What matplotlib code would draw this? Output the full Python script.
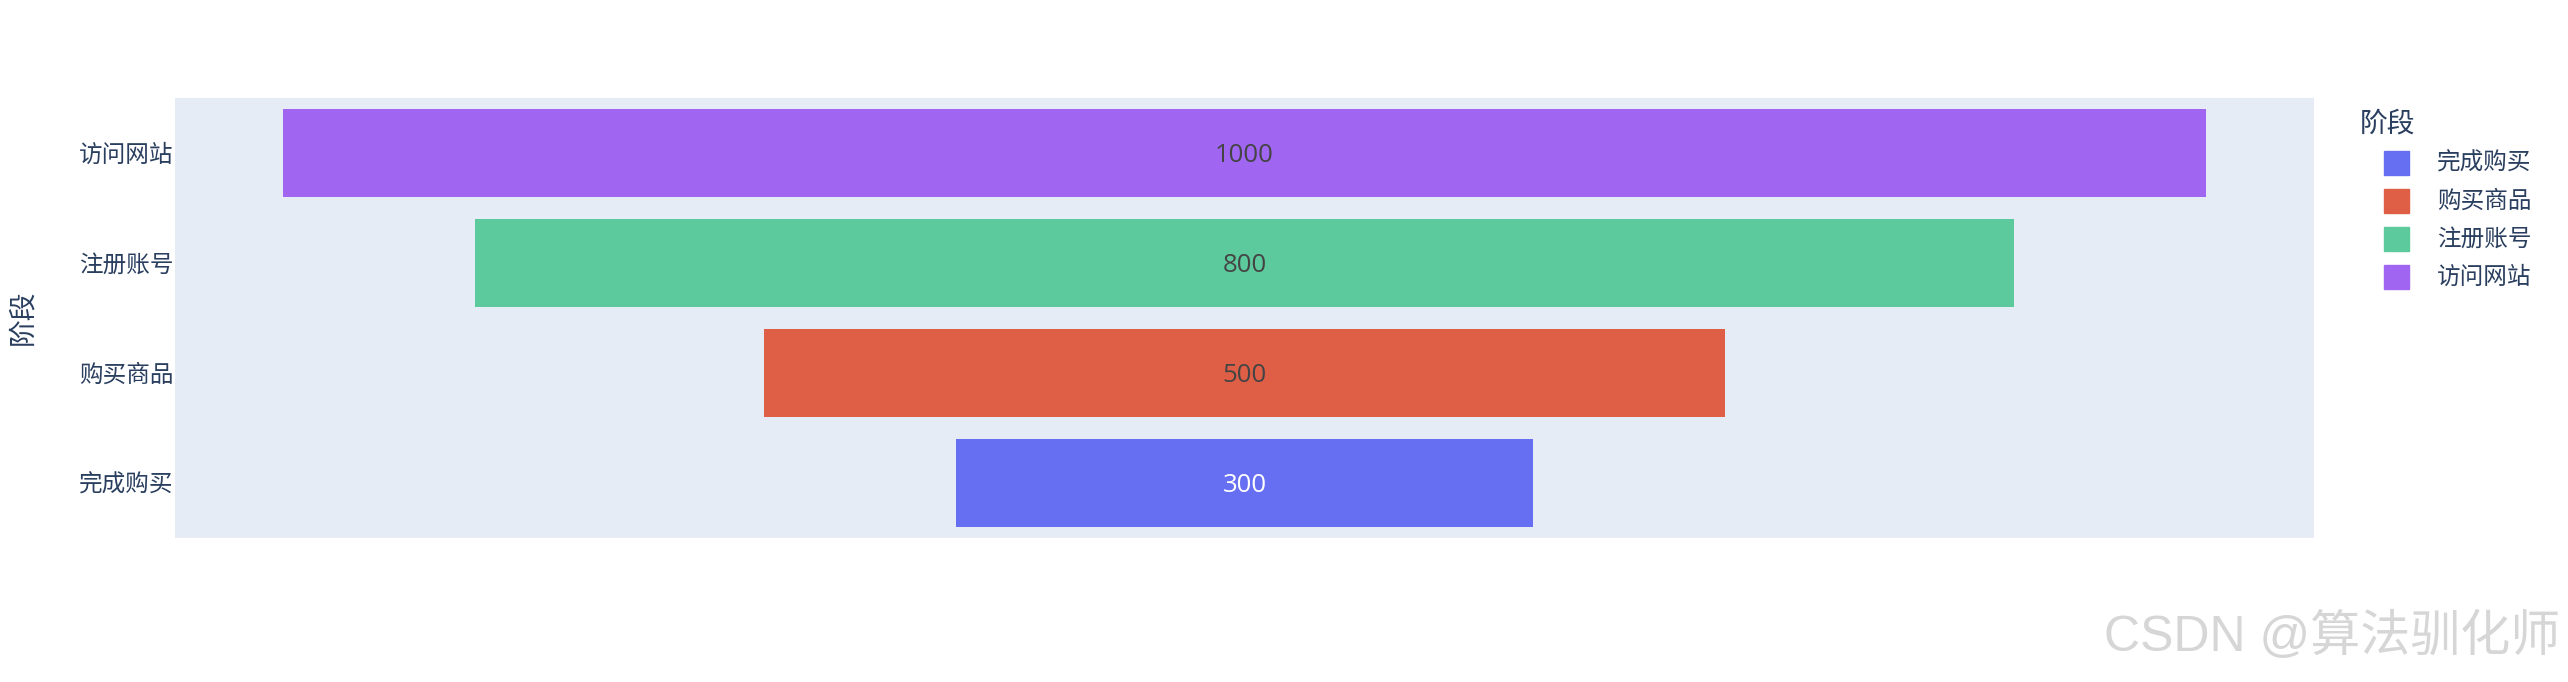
import matplotlib
matplotlib.use("Agg")
import matplotlib.pyplot as plt
from matplotlib.transforms import offset_copy

plt.rcParams['font.family'] = ['Noto Sans CJK SC', 'DejaVu Sans']

stages = ["访问网站", "注册账号", "购买商品", "完成购买"]
values = [1000, 800, 500, 300]
colors = ["#a066f2", "#5cca9c", "#df5f46", "#666ef2"]
text_colors = ["#444444", "#444444", "#444444", "#ffffff"]
legend_order = ["完成购买", "购买商品", "注册账号", "访问网站"]

W, H = 2568, 682
fig = plt.figure(figsize=(W / 100, H / 100), dpi=100)
ax = fig.add_axes([175 / W, 1 - 538 / H, (2314 - 175) / W, (538 - 98) / H])
ax.set_facecolor("#e5ecf6")

shifted = offset_copy(ax.transData, fig=fig, x=0, y=-3, units="dots")
ypos = list(range(len(stages)))[::-1]
for y, v, c, tc in zip(ypos, values, colors, text_colors):
    ax.barh(y, v, left=-v / 2, height=0.8, color=c, edgecolor="none")
    ax.text(0, y, str(v), ha="center", va="center", fontsize=18.5, color=tc,
            family=["Open Sans", "DejaVu Sans"], transform=shifted)

ax.set_xlim(-556.2, 556.2)
ax.set_ylim(-0.5, len(stages) - 0.5)
ax.set_yticks(ypos)
ax.set_yticklabels(stages, fontsize=17, color="#2a3f5f")
ax.set_xticks([])
ax.tick_params(axis="y", length=0, pad=1)
for s in ax.spines.values():
    s.set_visible(False)

fig.text(22 / W, 1 - 317 / H, "阶段", rotation=90, ha="center", va="center",
         fontsize=20, color="#2a3f5f")

# legend
cmap = dict(zip(stages, colors))
fig.text(2360 / W, 1 - 123 / H, "阶段", ha="left", va="center", fontsize=20, color="#2a3f5f")
for i, name in enumerate(legend_order):
    yc = 163 + i * 38
    fig.patches.append(plt.Rectangle((2384 / W, 1 - (yc + 12) / H), 25 / W, 24 / H,
                                     transform=fig.transFigure, color=cmap[name]))
    fig.text(2437 / W, 1 - yc / H, name, ha="left", va="center", fontsize=17, color="#2a3f5f")

fig.text(2560 / W, 1 - 636 / H, "CSDN @算法驯化师", ha="right", va="center",
         fontsize=36, color="#d6d6d6", family=["Liberation Sans", "Noto Sans CJK SC"])

fig.savefig("out.png", dpi=100, facecolor="white")
